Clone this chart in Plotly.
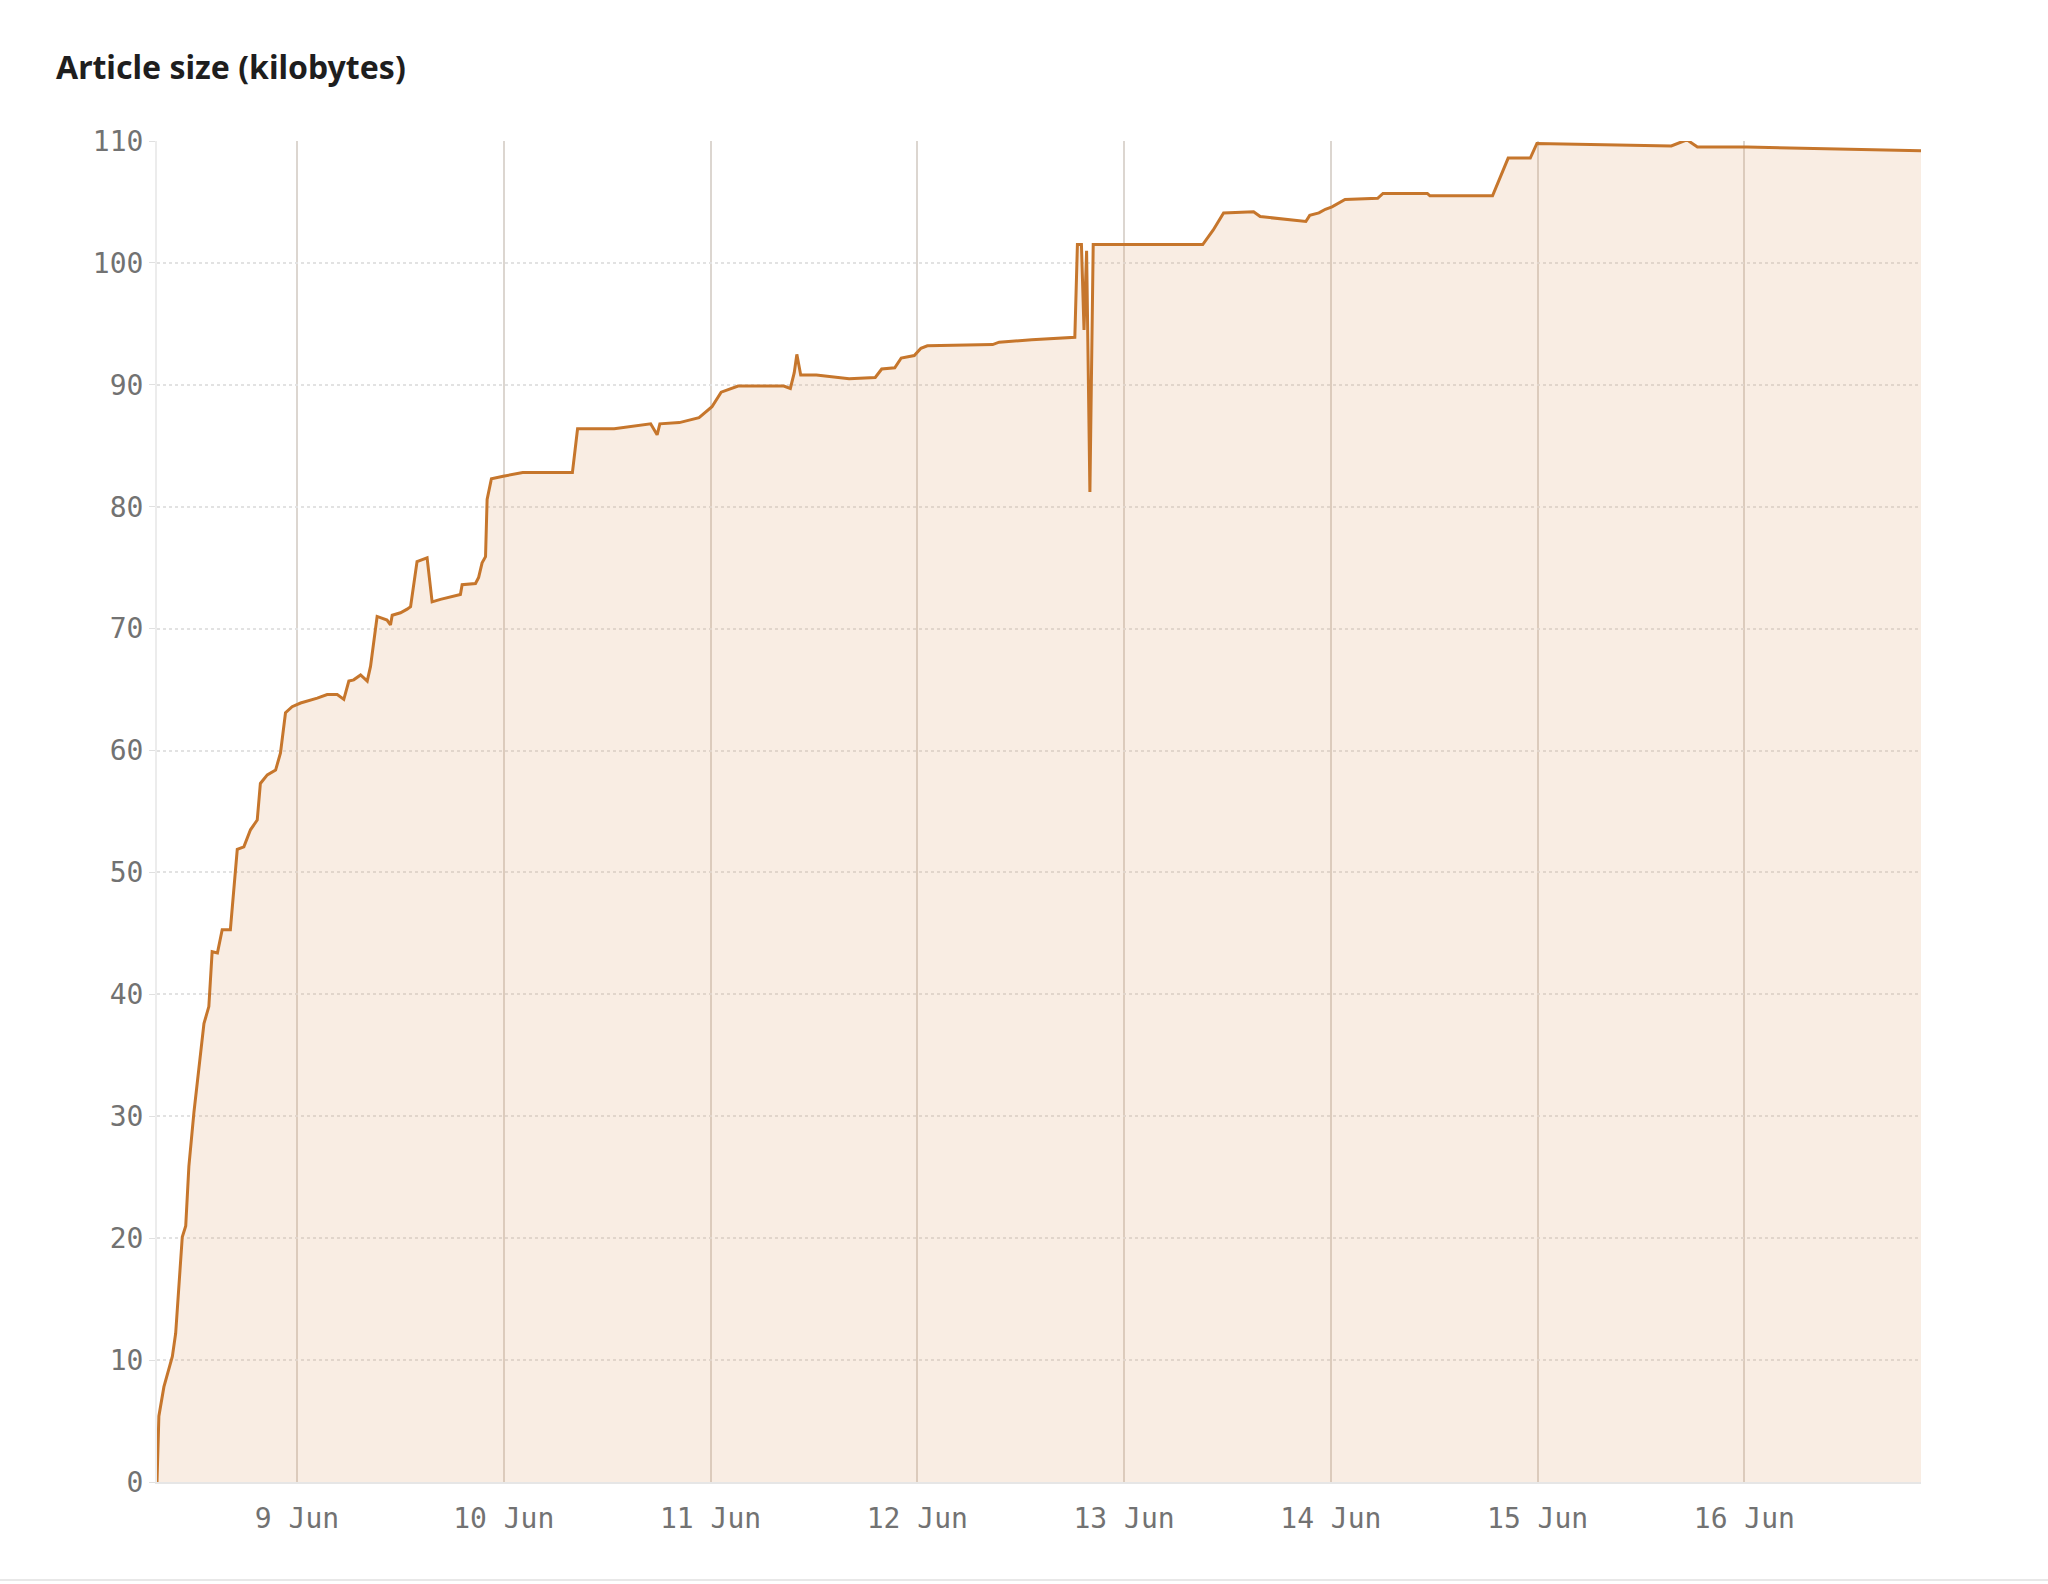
import plotly.graph_objects as go

# Article size over time (kilobytes)
times = [
    "2023-06-08 07:45", "2023-06-08 07:58", "2023-06-08 08:33", "2023-06-08 09:32",
    "2023-06-08 09:55", "2023-06-08 10:17", "2023-06-08 10:41", "2023-06-08 11:05",
    "2023-06-08 11:27", "2023-06-08 12:02", "2023-06-08 12:37", "2023-06-08 13:12",
    "2023-06-08 13:46", "2023-06-08 14:09", "2023-06-08 14:46", "2023-06-08 15:19",
    "2023-06-08 16:16", "2023-06-08 17:04", "2023-06-08 17:50", "2023-06-08 18:36",
    "2023-06-08 19:23", "2023-06-08 19:45", "2023-06-08 20:33", "2023-06-08 21:31",
    "2023-06-08 22:05", "2023-06-08 22:40", "2023-06-08 23:26", "2023-06-09 00:25",
    "2023-06-09 02:21", "2023-06-09 03:30", "2023-06-09 04:40", "2023-06-09 05:26",
    "2023-06-09 06:01", "2023-06-09 06:35", "2023-06-09 07:23", "2023-06-09 08:09",
    "2023-06-09 08:32", "2023-06-09 09:18", "2023-06-09 10:27", "2023-06-09 10:51",
    "2023-06-09 11:03", "2023-06-09 12:01", "2023-06-09 12:47", "2023-06-09 13:11",
    "2023-06-09 13:56", "2023-06-09 15:06", "2023-06-09 15:41", "2023-06-09 16:39",
    "2023-06-09 18:58", "2023-06-09 19:10", "2023-06-09 20:43", "2023-06-09 21:05",
    "2023-06-09 21:29", "2023-06-09 21:53", "2023-06-09 22:04", "2023-06-09 22:34",
    "2023-06-09 23:56", "2023-06-10 02:12", "2023-06-10 07:58", "2023-06-10 08:34",
    "2023-06-10 12:49", "2023-06-10 17:03", "2023-06-10 17:48", "2023-06-10 18:07",
    "2023-06-10 20:23", "2023-06-10 22:40", "2023-06-11 00:10", "2023-06-11 01:14",
    "2023-06-11 03:12", "2023-06-11 08:30", "2023-06-11 09:16", "2023-06-11 09:43",
    "2023-06-11 10:01", "2023-06-11 10:28", "2023-06-11 12:17", "2023-06-11 16:05",
    "2023-06-11 19:07", "2023-06-11 19:52", "2023-06-11 21:23", "2023-06-11 22:08",
    "2023-06-11 23:39", "2023-06-12 00:25", "2023-06-12 01:10", "2023-06-12 08:45",
    "2023-06-12 09:30", "2023-06-12 13:17", "2023-06-12 18:17", "2023-06-12 18:35",
    "2023-06-12 19:03", "2023-06-12 19:21", "2023-06-12 19:39", "2023-06-12 20:02",
    "2023-06-12 20:25", "2023-06-13 09:08", "2023-06-13 10:21", "2023-06-13 11:33",
    "2023-06-13 15:02", "2023-06-13 15:48", "2023-06-13 21:06", "2023-06-13 21:33",
    "2023-06-13 22:37", "2023-06-13 23:22", "2023-06-14 00:08", "2023-06-14 01:39",
    "2023-06-14 05:26", "2023-06-14 06:03", "2023-06-14 11:12", "2023-06-14 11:30",
    "2023-06-14 18:46", "2023-06-14 20:35", "2023-06-14 23:09", "2023-06-14 23:55",
    "2023-06-15 15:31", "2023-06-15 17:20", "2023-06-15 18:33", "2023-06-16 00:18",
    "2023-06-16 20:30",
]
size_kb = [
    0.0, 5.4, 7.8, 10.3,
    12.2, 16.3, 20.1, 21.0,
    25.9, 30.3, 34.1, 37.6,
    39.0, 43.5, 43.4, 45.3,
    45.3, 51.9, 52.1, 53.5,
    54.3, 57.3, 58.0, 58.4,
    59.8, 63.1, 63.6, 63.9,
    64.3, 64.6, 64.6, 64.2,
    65.7, 65.8, 66.2, 65.7,
    66.9, 71.0, 70.7, 70.3,
    71.1, 71.3, 71.6, 71.8,
    75.5, 75.8, 72.2, 72.4,
    72.8, 73.6, 73.7, 74.2,
    75.4, 75.9, 80.6, 82.3,
    82.5, 82.8, 82.8, 86.4,
    86.4, 86.8, 85.9, 86.8,
    86.9, 87.3, 88.2, 89.4,
    89.9, 89.9, 89.7, 91.0,
    92.5, 90.8, 90.8, 90.5,
    90.6, 91.3, 91.4, 92.2,
    92.4, 93.0, 93.2, 93.3,
    93.5, 93.7, 93.9, 101.5,
    101.5, 94.5, 101.0, 81.2,
    101.5, 101.5, 102.7, 104.1,
    104.2, 103.8, 103.4, 103.9,
    104.1, 104.4, 104.6, 105.2,
    105.3, 105.7, 105.7, 105.5,
    105.5, 108.6, 108.6, 109.8,
    109.6, 110.1, 109.5, 109.5,
    109.2,
]

title_text = "Article size (kilobytes)"
y_ticks = [0, 10, 20, 30, 40, 50, 60, 70, 80, 90, 100, 110]
x_start = "2023-06-08 07:45"
x_end = "2023-06-16 20:30"

LINE = "#c6762c"
FILL = "rgba(222,150,90,0.17)"
TICK_FONT = dict(family="DejaVu Sans Mono", size=28, color="#727272")

fig = go.Figure()
fig.add_trace(go.Scatter(
    x=times, y=size_kb, mode="lines",
    line=dict(color=LINE, width=3),
    fill="tozeroy", fillcolor=FILL,
    hoverinfo="skip", showlegend=False,
))

fig.update_layout(
    width=2048, height=1584,
    margin=dict(l=157, r=127, t=141, b=102, pad=0),
    paper_bgcolor="white", plot_bgcolor="white",
    title=dict(text=title_text, x=56 / 2048, xanchor="left", y=1 - 68 / 1584, yanchor="middle",
               font=dict(family="Noto Sans", size=32, color="#1e1e1e", weight="bold")),
    xaxis=dict(
        type="date", range=[x_start, x_end],
        tick0="2023-06-09", dtick=86400000, tickformat="%-d %b",
        showgrid=True, gridcolor="#dcd6d0", gridwidth=2,
        showline=True, linecolor="#e6e6e6", linewidth=2,
        ticks="outside", ticklen=10, tickcolor="rgba(0,0,0,0)",
        tickfont=TICK_FONT, zeroline=False,
    ),
    yaxis=dict(
        range=[0, 110], tickvals=y_ticks,
        showgrid=True, gridcolor="#e2e2e2", gridwidth=1.5, griddash="dot",
        showline=True, linecolor="#ececec", linewidth=2,
        ticks="outside", ticklen=6, tickcolor="#e0e0e0",
        tickfont=TICK_FONT, zeroline=False,
    ),
    shapes=[dict(type="line", xref="paper", yref="paper",
                 x0=-157 / 1764, x1=(2048 - 157) / 1764,
                 y0=(1482 - 1580) / 1341, y1=(1482 - 1580) / 1341,
                 line=dict(color="#e8e8e8", width=2))],
)

fig.write_html("out.html")
